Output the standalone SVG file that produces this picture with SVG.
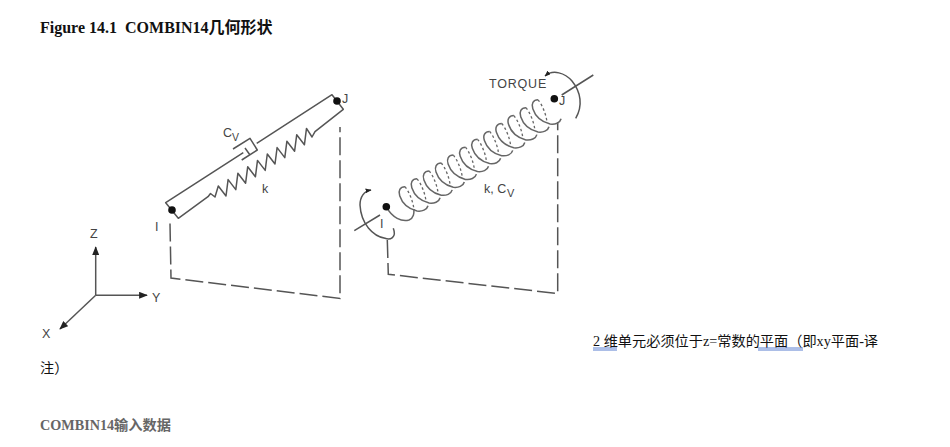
<svg xmlns="http://www.w3.org/2000/svg" width="950" height="447" viewBox="0 0 950 447">
<style>
.l{fill:none;stroke:#555;stroke-width:1.5;stroke-linejoin:round}
.d{fill:none;stroke:#555;stroke-width:1.5;stroke-dasharray:18 5}
.c{fill:none;stroke:#666;stroke-width:1.5}
.h{fill:none;stroke:#666;stroke-width:1.3;stroke-dasharray:2.5 2.5}
.t{font-family:"Liberation Sans",Arial,sans-serif;font-size:12.5px;fill:#444}
.s{font-family:"Liberation Serif","Noto Sans CJK SC",serif;font-size:14.2px;fill:#111;white-space:pre}
.b{font-weight:bold}
.u{stroke:#5b7fd0;stroke-width:1;fill:none}
</style>
<defs>
<marker id="a" viewBox="0 0 10 8" refX="9" refY="4" markerWidth="9" markerHeight="7" markerUnits="userSpaceOnUse" orient="auto"><path d="M0 0L10 4L0 8z" fill="#222"/></marker>
<marker id="b" viewBox="0 0 10 8" refX="9" refY="4" markerWidth="6" markerHeight="5" markerUnits="userSpaceOnUse" orient="auto"><path d="M0 0L10 4L0 8z" fill="#222"/></marker>
<g id="loop">
<path class="c" d="M0 0C-5 0-7 4-5.3 9C-3 16 3 22 12 24.3C17 25 22 23 23 19"/>
<path class="h" d="M0 0C4 5 8 14 9 23"/>
</g>
</defs>
<text class="s b" x="40" y="33" style="font-size:16px">Figure 14.1  COMBIN14<tspan style="font-size:16px">几何形状</tspan></text>
<g id="axes">
<path class="l" d="M95.7 295.3V247" marker-end="url(#a)"/>
<path class="l" d="M95.7 295.3H147" marker-end="url(#a)"/>
<path class="l" d="M95.7 295.3L60 329" marker-end="url(#a)"/>
<text class="t" x="90" y="238">Z</text>
<text class="t" x="152" y="302">Y</text>
<text class="t" x="42" y="338">X</text>
</g>
<g id="connectors">
<path class="d" d="M170 223.5L171 278L340 298.5V127"/>
<path class="d" d="M387.3 240L388.3 274.3L557.7 293.5V122"/>
</g>
<g id="element-left">
<path class="l" d="M243.3 152.7L165.7 202.7L178.3 218.3L208 196.7L210.5 193.5L215 197L218.3 186L226 196L228.1 179.6L235.8 189.6L237.9 173.2L245.6 183.2L247.7 166.8L255.4 176.8L257.5 160.4L265.2 170.4L267.3 154L275 164L277.1 147.6L284.8 157.6L286.9 141.2L294.6 151.2L296.7 134.8L304.4 144.8L306.5 128.4L312 137L315 131.7L343.3 109.3L332 94.7L256.7 143.3"/>
<path class="l" d="M233 149L250 138.3L257.3 150L241.7 160M245 148L250 155"/>
<circle cx="172" cy="210" r="3.8" fill="#111"/>
<circle cx="337" cy="101" r="3.8" fill="#111"/>
<text class="t" x="155" y="231">I</text>
<text class="t" x="342" y="103">J</text>
<text class="t" x="223" y="137">C</text>
<text class="t" x="232" y="141" style="font-size:10.5px">V</text>
<text class="t" x="262" y="193">k</text>
</g>
<g id="element-right">
<path class="l" d="M354.3 230.7L380 215M561.7 95L593.3 75"/>
<path class="l" d="M393.3 228.3C397 238 390 240 385 238.3C373 236 361 224 360 205C360 197 364 191 371 190" marker-end="url(#b)"/>
<path class="l" d="M575.7 118.3C583 106 581 92 572 81C565 73 553 69 545 76" marker-end="url(#b)"/>
<path class="c" d="M386.3 206.7C392 218 402 222 409 220C414 218 414 213 414 209"/>
<use href="#loop" x="405" y="186.7"/>
<use href="#loop" x="417.1" y="178.8"/>
<use href="#loop" x="429.2" y="170.9"/>
<use href="#loop" x="441.3" y="163"/>
<use href="#loop" x="453.4" y="155.1"/>
<use href="#loop" x="465.5" y="147.2"/>
<use href="#loop" x="477.6" y="139.3"/>
<use href="#loop" x="489.7" y="131.4"/>
<use href="#loop" x="501.8" y="123.5"/>
<use href="#loop" x="513.9" y="115.6"/>
<use href="#loop" x="526" y="107.7"/>
<use href="#loop" x="538.1" y="99.8"/>
<circle cx="386.3" cy="206.7" r="3.8" fill="#111"/>
<circle cx="554.3" cy="98.7" r="3.8" fill="#111"/>
<text class="t" x="489" y="88" style="letter-spacing:.8px">TORQUE</text>
<text class="t" x="380" y="228">I</text>
<text class="t" x="559" y="105">J</text>
<text class="t" x="484" y="193">k, C</text>
<text class="t" x="507" y="197" style="font-size:11px">V</text>
</g>
<g id="body-text">
<text class="s" x="593" y="345.5">2 维单元必须位于z=常数的平面（即xy平面-译</text>
<text class="s" x="40" y="373">注）</text>
<text class="s b" x="40" y="430" style="fill:#666">COMBIN14输入数据</text>
<path class="u" d="M593 348H617M593 350H617M758 348H803M758 350H803"/>
</g>
</svg>
